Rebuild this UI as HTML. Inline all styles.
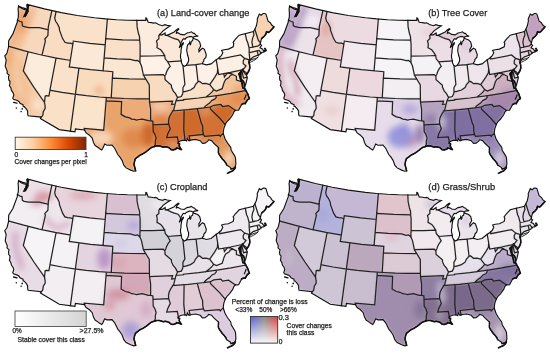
<!DOCTYPE html>
<html><head><meta charset="utf-8"><style>html,body{margin:0;padding:0;background:#fff;}svg{display:block;}</style></head>
<body><svg width="550" height="355" viewBox="0 0 550 355">
<rect width="550" height="355" fill="#fff"/>
<defs>
<path id="us" d="M18.6 6 21.3 8.1 23.5 9.2 26.3 9.9 26.2 12.4 24.6 14.7 23.8 16.5 26 15.4 28.3 11.4 27.8 8.2 28.6 6.4 27.9 4.6 44.4 8.9 61.2 12.6 77.3 15.5 94.5 17.8 105.6 18.9 116.6 19.7 127.5 20.2 139.3 20.4 145.8 20.4 145.8 18 146.6 18.2 148.2 22.3 151.5 22.6 153.7 23.1 155.4 22.8 157.4 23.7 158.3 24.6 162.7 25.7 164.7 24.7 167.1 25.4 170.3 25.9 167.3 27.7 163 30.8 161.3 32.9 159.6 34.4 159.8 34.8 162.3 34.8 165.1 33 165.3 35.3 167.2 35.3 174.2 32.1 175.9 30.3 178.2 28.7 178.9 29.1 176.8 31.2 176.5 32.8 175.9 33.5 177.9 32.7 180.7 34.4 184.2 34.9 187 33 189.5 32.5 191.4 31.8 193.5 33.4 194.4 33.4 196 35.3 198.2 36.2 194.3 36.5 193.2 37.5 191.4 36.6 189.3 36.5 186.3 37.8 185 39.2 183.8 38.7 182.8 39.4 181.4 41.9 179.2 47.8 183.5 42.3 183.2 44 181.9 45.5 181 50.5 181 52.7 180.5 55 180.5 57.4 181.2 60.2 181.5 62.8 182.5 64.9 184.2 66.4 186 65.6 187.8 62.9 188.6 60.8 188.6 58.3 187.7 55.5 186.7 50.8 187.2 46.3 187.9 44.5 189.4 43.3 189.7 42.3 190.2 44.6 190 45.1 190.8 43.8 191.2 41.4 192.5 40.7 193.2 38.1 194.5 38.8 197.6 39.9 199.7 42 200.7 46.1 198.8 49.4 199 51.7 200.9 49.5 202.6 48.2 204.4 49.3 206.3 54.7 205.8 57.4 203.9 59.4 203.7 61.3 202.6 62.4 202.6 63.8 206.4 64.9 211.1 63.9 215 60.6 218.2 58.5 221.3 55.7 222.8 52.7 221.6 50.4 224.2 49.7 228.4 49.1 233.2 46.8 233.8 43.7 233.1 42.3 235.2 39.4 239.2 35.2 253.5 31.6 254.8 29.2 256.3 26.1 257.4 21 257.2 19.2 259.3 14.1 261.1 15.2 263.2 13.5 264.8 13.5 265.9 14.1 268.1 21.1 270.3 22.7 271.7 25 273.9 26.9 270 31.3 268.6 32.4 266.5 31.7 265.8 34.3 264.3 36.1 261.6 38.5 260.9 40.8 260.2 44.2 261.6 45.3 260 47.8 262.3 48.9 263.6 50.8 265.5 50.4 264.5 48.6 265.1 48.3 265.9 49.2 266.3 50.7 263.5 52.3 261.9 52.4 260.3 53.7 259.7 54.6 253.2 57 249.9 59.9 249.7 60.9 248.9 62.5 249.6 65 249.8 68 248.9 70.9 246.9 74.2 246.1 72.6 243.1 70.4 244 72.4 246.4 75.2 247.2 77.4 247.2 78.2 245.8 84.1 244.5 86.9 244.4 83.7 243.3 81.3 241.4 79.6 240.8 77.8 240.7 75.1 241 71.7 238.9 73.8 240.6 79.2 241.6 81.6 243 88.1 244.6 88.4 247.7 93.8 249.4 98.6 247.4 99.9 245.1 103.7 244 103.3 241.6 104.4 238.6 110.1 235.4 110.3 233.8 112 232.7 114.8 229.6 119 227.2 121.4 225.6 123.7 223.9 128.3 223.3 131.7 223.3 133.7 225 138.7 227.4 142.9 230.7 147.3 231.2 150.2 234.8 156.1 235.5 158 235.9 164 235 167.9 231 169 230.5 167.6 226.7 165 225.9 163.1 224.4 161.1 222.2 158.8 219.3 154.6 218.4 152.8 218.5 147.5 213.6 143 211.6 140.6 208.6 139.8 207.7 141.1 205.1 143.1 202.5 143.3 200.2 140.7 195.6 139.4 191.7 139.9 189 140.8 187.3 138.4 186.7 141 185 140.2 182.2 140.4 179.7 141.3 178.4 142.2 178.2 143.3 179.6 143.9 179.2 145.9 180.2 148.1 181.5 149.6 178.8 148.5 176.5 148 176 149 173.2 149.9 171.2 149.7 169.1 147.8 167.7 147.2 165.1 146.7 163.4 147.1 159.4 145.9 156.6 145.9 151.5 147.5 146.5 151.4 143 153.7 140.2 155 135.3 158.9 134.4 162.1 134 164.7 135.7 170.8 133.7 171.2 130.7 170.1 126.1 167.9 123.8 165.1 122.2 160.6 120 157.2 117.8 154.5 114.7 148.2 112 145.1 106.9 145.2 104.7 144.1 102.7 148.5 101.7 149.9 99.3 148.5 98.2 147.5 95.1 145.5 93.5 142.5 92.2 138.1 89.2 134.9 86.1 132.9 84.5 130 75.4 128.9 75 131.8 59.3 129.6 40.4 118.5 41.2 117.1 28.1 115.7 27.7 114.4 27.6 111 26.4 109.1 24.2 106.6 23.1 106.3 23 104.6 20 103.3 19.3 101.9 17.4 100.5 13.5 99.2 12.8 98.1 13.8 94.9 13 92.6 11.4 90.4 10.9 88 9.4 85.5 9.9 83.6 10 81.3 8.8 79.9 8.5 77.1 9.1 75.2 7 73.2 7.3 71.3 5.2 66.2 6.2 60 4.8 55.9 6.5 53.9 7.2 52.4 8.7 46.4 8.5 45.9 8.7 40.6 12.9 33.9 17.2 22.3 17.5 20 18.3 17.2 18.4 13.2 18.1 9 18.6 6Z"/>
<path id="li" d="M248.9 62.5 250.5 62.2 253.6 60.6 256.2 59 258.4 56.9 256.5 58 250.5 60.1 248.9 62.5Z"/>
<path id="bd" d="M16.9 19.7 20.1 21.5 22 22 22.4 25.8 24.2 26.7 28.7 27.6 39.3 27.6 48.8 29.8M48.2 30.3 48.3 26.9 52 10.1M48.2 29.1 47.9 35.6 44.8 39 45.4 40.8 41.9 55.7M8.1 46.2 23.7 50.6 39.3 54.5 55.1 57.8 70.9 60.5M28.3 51.2 23.3 70.9 33.9 87.4 44.9 103M44.4 103.2 45.2 96 46.8 95.7 48.9 96 50.1 89.6M44.4 102 45.1 106 45.2 108.4 43.3 111.7 42.7 115.6 40.7 117.6M49.8 90.8 56.2 57.4M56.2 11 54.7 18 55.6 21.3 57.4 23.7 59.3 27.7 59.5 30.1 62.6 38.6 64.9 42.3 67.6 43.1 70.4 43.2 73.4 44.5M73.4 40.5 69.2 67.5M72.7 41 89.7 43.3 105.8 44.9M107.4 18.5 103 71.6M105.1 38.7 122.7 39.8 140.2 40.2M68.7 66.8 90.5 69.7 112.8 71.7 112.4 78.8M79 67.7 70.3 131.8M49.4 90.1 62.1 92.4 74.3 94.2 86.3 95.7 99.3 97 112.2 97.9 124.3 98.5 137.4 98.8 150 98.7M106.4 97 103.7 130.2 84.2 128.5 84.7 130.5M105.5 100.8 121.6 101.7 121.1 115M120.6 114.1 125.3 116.9 129 117.7 131.7 119.1 134.3 119.4 136.5 120.1 139.2 119.5 142.4 119.1 148.3 120.7 151.2 120.8M112.4 77.6 111.2 98.5M111.8 78.2 129 78.9 146.3 79.1M103.6 57.8 117.3 58.8 130.4 59.3 135.1 60.7 137.5 60.4 138.9 61.4 140.5 63.2M139.6 39.6 140.1 44.4 140.1 56.1 139.9 59.4 140.1 63.3M136.8 19.8 137.1 26.9 138.4 33.3 139.5 36.6 139.7 40.8M139.5 56.1 152.8 56 165.3 55.5M139.8 62.2 141.5 66 143.4 75.1 149.3 84.9 149.4 99.3M142.8 75.1 163.2 74.6 165.2 76.4M149.4 98.1 149.5 102 172.6 101.1 171.6 104.4 175.8 104.1M149.4 101.4 150.6 109.2 150.6 121.4M150 120.6 152.9 121.3 153 124.8 169.3 124.1M153 124.2 153.2 131.5 155.1 134.7 156.1 137.9 155.3 141.2 155.3 144.1 154.4 147M168.5 123.6 170.3 128.8 167.8 133.8 166.7 137.5 177.3 136.9 178.5 142.7M175.3 103.6 173.7 109.9 171 113.7 169.1 117.7 168.5 121 168.7 124.8M171.9 111 188.4 109.7 204.5 107.9M183.1 109.7 184.1 110.7 183.8 129.8 185 140.8M197.1 108.2 201.1 122.5 202.6 126 202.8 131.2 203.6 135M204.1 134.3 189.1 135.9 190.2 141M203.2 133.9 204.5 136.3 219.3 135.1 220.3 136.4 221.3 135 223.8 133.2M225.6 125 219.8 118.3 210.6 109.1 210.2 106.5M210.9 107 203.3 108M209.8 107.4 213.8 105.3 220.9 104.5 222.5 106.5 228.5 105.6 235.9 110.7M203.6 108.4 205.4 106.1 207.8 104.2 209.3 103.3 212 100.3 214.7 99.2 216.3 97.3 216.1 95.1M215.6 95.8 231 93.3 246.4 90.4M216.7 95.6 198.8 98 183.4 99.6 183.5 100.2 175.4 100.9M205.4 97.5 210 93.9 212.3 91.6 214.1 89.2M214.1 90.2 209.4 84.2M210.3 84.8 206 83.5 202.5 83.7 199.7 81.4 198.1 81.6 195.5 84.5 194.1 87.6 190.5 90 185 91.7 183 91.7 182.7 93.7 181.3 96.5 177 97.6M177.8 96.9 176 100.8 175 104.8M213.2 89.4 216.4 91 222.2 88.7 224.2 82.3 225.7 79.4 228.9 77.5 230.5 75.2 233.4 74.4M233.4 74.8 230.2 73.2 227.2 73.4 224.4 77 223.7 73M242.3 69.9 230.4 72.4 218.7 74.5 216.1 59.1M217.7 67.9 217.4 72.8 214.7 77.3 209.4 85.1M232.3 74.3 236.4 76.3 236.4 80 242.2 81.8M241.6 69.5 243.5 78.1 247.7 77.2M241.3 70.5 242.5 69.1 244.1 69.1M243.1 69.6 246 65.8 243.3 63.8 243.2 61.1 244.8 57.8M245 58.8 240.6 55 219.8 59.1 219.4 56.8M244 58.2 248.9 59.8 248.8 61.8 249.1 63M242.9 71 243.7 68.5M198.1 82.2 196.1 64.6 203.1 63.5M196.7 64.6 185.8 65.3M182.9 65 184.9 84.3 182.9 87.8 183 92.3M181.9 60.8 167.2 61.9M167.5 61.4 170.2 66.3 168.4 68.4 166.6 71.8 165.8 74.5 164.8 76 165.1 79.8 171.4 85.3 171.5 87.3 173.3 91.1 175.5 93.6 177.8 98M168.2 62.4 165.2 58.8 164.7 55.5 162.7 52.3 160.7 49.8 157 47.7 157.3 44.1 156.5 40.9 158.9 38.8 158.8 35.6 160.1 34.3M180.9 44.4 179.5 41.4 178 39.6 174.3 38.6 171.5 37.5 166.7 35.1M253.4 31 253.9 34.9 252.5 38.6 251.9 42.2 253 47.8M245.1 33.1 246.6 40.1 247.7 42.5 249.3 48.5M248.5 48 258.3 45.9 260.6 43.8M249.1 47.3 249.2 52.6 249.7 58.9 250.4 60M248.6 52.8 257.1 50.8 258.4 55.8M256.5 50.9 259.1 50.4 261.5 53.7M254.7 28.7 258.3 40.1 260.7 43.2"/>
<path id="s_WA" d="M51.9 10.7 39.5 7.7 27.9 4.6 28.6 6.4 27.8 8.2 28.3 11.4 26 15.4 23.8 16.5 24.6 14.7 26.2 12.4 26.3 9.9 23.5 9.2 21.3 8.1 18.6 6 18.1 9 18.4 13.2 18.3 17.2 17.5 20 20.1 21.5 22 22 22.4 25.8 24.2 26.7 28.7 27.6 39.3 27.6 48.2 29.7 48.3 26.9Z"/>
<path id="s_OR" d="M17.5 20 17.2 22.3 16.3 25.1 12.9 33.9 8.7 40.6 8.5 45.9 8.7 46.4 25.5 51.1 42.1 55.1 45.4 40.8 44.8 39 47.9 35.6 48.2 29.7 39.3 27.6 28.7 27.6 24.2 26.7 22.4 25.8 22 22 20.1 21.5Z"/>
<path id="s_CA" d="M8.7 46.4 7.2 52.4 6.5 53.9 4.8 55.9 6.2 60 5.2 66.2 7.3 71.3 7 73.2 9.1 75.2 8.5 77.1 8.8 79.9 10 81.3 9.9 83.6 9.4 85.5 10.9 88 11.4 90.4 13 92.6 13.8 94.9 12.8 98.1 13.5 99.2 17.4 100.5 19.3 101.9 20 103.3 23 104.6 23.1 106.3 24.2 106.6 26.4 109.1 27.6 111 27.7 114.4 28.1 115.7 41.2 117.1 42.7 115.6 43.3 111.7 45.2 108.4 45.1 106 44.5 102.6 33.9 87.4 23.3 70.9 28.2 51.8Z"/>
<path id="s_NV" d="M42.1 55.1 28.2 51.8 23.3 70.9 33.9 87.4 44.5 102.6 45.2 96 46.8 95.7 48.9 96 56.1 58Z"/>
<path id="s_ID" d="M56.1 11.6 51.9 10.7 48.3 26.9 47.9 35.6 44.8 39 45.4 40.8 42.1 55.1 56.1 58 70.3 60.4 72.8 44.3 70.4 43.2 67.6 43.1 64.9 42.3 62.6 38.6 59.5 30.1 59.3 27.7 57.4 23.7 55.6 21.3 54.7 18Z"/>
<path id="s_MT" d="M107.4 19.1 94.5 17.8 81.6 16.1 68.8 14 56.1 11.6 54.7 18 55.6 21.3 57.4 23.7 59.3 27.7 59.5 30.1 62.6 38.6 64.9 42.3 67.6 43.1 70.4 43.2 72.8 44.3 73.3 41.1 89.7 43.3 105.2 44.9Z"/>
<path id="s_WY" d="M73.3 41.1 69.3 66.9 86.6 69.3 103.1 71 105.2 44.9 89.7 43.3Z"/>
<path id="s_UT" d="M70.3 60.4 56.1 58 50 90.2 63.1 92.5 75.4 94.4 78.9 68.3 69.3 66.9Z"/>
<path id="s_AZ" d="M41.2 117.1 40.4 118.5 59.3 129.6 70.4 131.2 75.4 94.4 63.1 92.5 50 90.2 48.9 96 46.8 95.7 45.2 96 44.5 102.6 45.1 106 45.2 108.4 43.3 111.7 42.7 115.6Z"/>
<path id="s_CO" d="M112.8 71.7 90.5 69.7 78.9 68.3 75.4 94.4 93.3 96.5 111.2 97.9Z"/>
<path id="s_NM" d="M70.4 131.2 75 131.8 75.4 128.9 84.5 130 84.2 128.5 103.7 130.2 106.3 97.6 90.3 96.2 75.4 94.4Z"/>
<path id="s_ND" d="M136.8 20.4 122.5 20 107.4 19.1 105.7 38.8 122.7 39.8 139.6 40.2 139.5 36.6 138.4 33.3 137.1 26.9Z"/>
<path id="s_SD" d="M105.7 38.8 104.2 57.9 117.3 58.8 130.4 59.3 135.1 60.7 137.5 60.4 138.9 61.4 140.1 62.7 139.9 59.4 140.1 56.1 140.1 44.4 139.6 40.2 122.7 39.8Z"/>
<path id="s_NE" d="M104.2 57.9 103.1 71 112.8 71.7 112.4 78.2 129 78.9 145.7 79.1 143.4 75.1 141.5 66 140.1 62.7 138.9 61.4 137.5 60.4 135.1 60.7 130.4 59.3 117.3 58.8Z"/>
<path id="s_KS" d="M112.4 78.2 111.2 97.9 130.3 98.7 149.4 98.7 149.3 84.9 145.7 79.1 129 78.9Z"/>
<path id="s_OK" d="M130.3 98.7 106.3 97.6 106.1 100.8 121.6 101.7 121.1 114.4 125.3 116.9 129 117.7 131.7 119.1 134.3 119.4 136.5 120.1 139.2 119.5 142.4 119.1 148.3 120.7 150.6 120.8 150.6 109.2 149.5 102 149.4 98.7Z"/>
<path id="s_TX" d="M84.5 130 86.1 132.9 89.2 134.9 92.2 138.1 93.5 142.5 95.1 145.5 98.2 147.5 99.3 148.5 101.7 149.9 102.7 148.5 104.7 144.1 106.9 145.2 112 145.1 114.7 148.2 117.8 154.5 120 157.2 122.2 160.6 123.8 165.1 126.1 167.9 130.7 170.1 133.7 171.2 135.7 170.8 134 164.7 134.4 162.1 135.3 158.9 140.2 155 143 153.7 146.5 151.4 151.5 147.5 154.6 146.4 155.3 144.1 155.3 141.2 156.1 137.9 155.1 134.7 153.2 131.5 152.9 121.3 150.6 120.8 148.3 120.7 142.4 119.1 139.2 119.5 136.5 120.1 134.3 119.4 131.7 119.1 129 117.7 125.3 116.9 121.1 114.4 121.6 101.7 106.1 100.8 103.7 130.2 84.2 128.5Z"/>
<path id="s_MN" d="M159.8 34.6 159.6 34.4 161.3 32.9 163 30.8 167.3 27.7 170.3 25.9 167.1 25.4 164.7 24.7 162.7 25.7 158.3 24.6 157.4 23.7 155.4 22.8 153.7 23.1 151.5 22.6 148.2 22.3 146.6 18.2 145.8 18 145.8 20.4 136.8 20.4 137.1 26.9 138.4 33.3 139.5 36.6 140.1 44.4 140.1 56.1 152.8 56 164.7 55.5 162.7 52.3 160.7 49.8 157 47.7 157.3 44.1 156.5 40.9 158.9 38.8 158.8 35.6Z"/>
<path id="s_IA" d="M140.1 56.1 139.9 59.4 140.1 62.7 141.5 66 143.4 75.1 163.2 74.6 164.8 76 165.8 74.5 166.6 71.8 168.4 68.4 170.2 66.3 167.8 61.9 165.2 58.8 164.7 55.5 152.8 56Z"/>
<path id="s_MO" d="M143.4 75.1 149.3 84.9 149.5 102 172.6 101.1 171.6 104.4 175.2 104.2 176 100.8 177.6 97.4 175.5 93.6 173.3 91.1 171.5 87.3 171.4 85.3 165.1 79.8 164.8 76 163.2 74.6Z"/>
<path id="s_AR" d="M175.2 104.2 171.6 104.4 172.6 101.1 149.5 102 150.6 109.2 150.6 120.8 152.9 121.3 153 124.8 168.7 124.2 168.5 121 169.1 117.7 171 113.7 173.7 109.9Z"/>
<path id="s_LA" d="M154.6 146.4 156.6 145.9 159.4 145.9 163.4 147.1 165.1 146.7 167.7 147.2 169.1 147.8 171.2 149.7 173.2 149.9 176 149 176.5 148 178.8 148.5 181.5 149.6 180.2 148.1 179.2 145.9 179.6 143.9 178.2 143.3 178.4 142.2 177.3 136.9 166.7 137.5 167.8 133.8 170.3 128.8 168.7 124.2 153 124.8 153.2 131.5 155.1 134.7 156.1 137.9 155.3 141.2 155.3 144.1Z"/>
<path id="s_WI" d="M167.2 35.3 165.3 35.3 165.1 33 162.3 34.8 159.8 34.6 158.8 35.6 158.9 38.8 156.5 40.9 157.3 44.1 157 47.7 160.7 49.8 162.7 52.3 164.7 55.5 165.2 58.8 167.8 61.9 181.3 60.9 180.5 57.4 180.5 55 181 52.7 181 50.5 181.9 45.5 183.2 44 183.5 42.3 179.2 47.8 180.7 43.9 179.5 41.4 178 39.6 173.3 38.2Z"/>
<path id="s_IL" d="M183 65.3 182.5 64.9 181.5 62.8 181.3 60.9 167.8 61.9 170.2 66.3 168.4 68.4 166.6 71.8 165.8 74.5 164.8 76 165.1 79.8 171.4 85.3 171.5 87.3 173.3 91.1 175.5 93.6 177.6 97.4 181.3 96.5 182.7 93.7 183 91.7 182.9 87.8 184.9 84.3Z"/>
<path id="s_MI" d="M202.6 63.6 202.6 62.4 203.7 61.3 203.9 59.4 205.8 57.4 206.3 54.7 204.4 49.3 202.6 48.2 200.9 49.5 199 51.7 198.8 49.4 200.7 46.1 199.7 42 197.6 39.9 194.5 38.8 193.2 38.1 192.5 40.7 191.2 41.4 190.8 43.8 190 45.1 190.2 44.6 189.7 42.3 189.4 43.3 187.9 44.5 187.2 46.3 186.7 50.8 187.7 55.5 188.6 58.3 188.6 60.8 187.8 62.9 186.2 65.3 196.1 64.6Z"/>
<path id="s_MIU" d="M180.7 43.9 181.4 41.9 182.8 39.4 183.8 38.7 185 39.2 186.3 37.8 189.3 36.5 191.4 36.6 193.2 37.5 194.3 36.5 198.2 36.2 196 35.3 194.4 33.4 193.5 33.4 191.4 31.8 189.5 32.5 187 33 184.2 34.9 180.7 34.4 177.9 32.7 175.9 33.5 176.5 32.8 176.8 31.2 178.9 29.1 178.2 28.7 175.9 30.3 174.2 32.1 167.2 35.3 173.3 38.2 178 39.6 179.5 41.4Z"/>
<path id="s_IN" d="M186.2 65.3 186 65.6 184.2 66.4 183 65.3 184.9 84.3 182.9 87.8 183 91.7 185 91.7 190.5 90 194.1 87.6 195.5 84.5 198.1 81.6 196.1 64.6Z"/>
<path id="s_OH" d="M216.2 59.8 211.1 63.9 206.4 64.9 202.6 63.8 202.6 63.6 196.1 64.6 198.1 81.6 199.7 81.4 202.5 83.7 206 83.5 209.7 84.6 214.7 77.3 217.4 72.8 217.7 68.5Z"/>
<path id="s_KY" d="M176 100.8 183.5 100.2 183.4 99.6 205.9 97.1 210 93.9 212.3 91.6 213.7 89.7 209.7 84.6 206 83.5 202.5 83.7 199.7 81.4 198.1 81.6 195.5 84.5 194.1 87.6 190.5 90 185 91.7 183 91.7 182.7 93.7 181.3 96.5 177.6 97.4Z"/>
<path id="s_TN" d="M176 100.8 173.7 109.9 173 110.9 188.4 109.7 203.9 108 205.4 106.1 207.8 104.2 209.3 103.3 212 100.3 214.7 99.2 216.3 97.3 216.2 95.7 198.8 98 183.4 99.6 183.5 100.2Z"/>
<path id="s_MS" d="M178.4 142.2 179.7 141.3 182.2 140.4 185 140.2 183.8 129.8 184.1 110.7 183.5 110.1 173 110.9 171 113.7 169.1 117.7 168.5 121 168.7 124.2 170.3 128.8 167.8 133.8 166.7 137.5 177.3 136.9Z"/>
<path id="s_AL" d="M185 140.2 186.7 141 187.3 138.4 189 140.8 190.1 140.6 189.1 135.9 203.5 134.4 202.8 131.2 202.6 126 201.1 122.5 197.2 108.8 183.5 110.1 184.1 110.7 183.8 129.8Z"/>
<path id="s_GA" d="M223.3 133.5 223.3 131.7 223.9 128.3 225.2 124.5 219.8 118.3 210.6 109.1 210.3 107.1 197.2 108.8 201.1 122.5 202.6 126 202.8 131.2 203.5 134.4 204.5 136.3 219.3 135.1 220.3 136.4 221.3 135Z"/>
<path id="s_FL" d="M190.1 140.6 191.7 139.9 195.6 139.4 200.2 140.7 202.5 143.3 205.1 143.1 207.7 141.1 208.6 139.8 211.6 140.6 213.6 143 218.5 147.5 218.4 152.8 219.3 154.6 222.2 158.8 224.4 161.1 225.9 163.1 226.7 165 230.5 167.6 231 169 235 167.9 235.9 164 235.5 158 234.8 156.1 231.2 150.2 230.7 147.3 227.4 142.9 225 138.7 223.3 133.5 221.3 135 220.3 136.4 219.3 135.1 204.5 136.3 203.5 134.4 189.1 135.9Z"/>
<path id="s_SC" d="M225.2 124.5 227.2 121.4 229.6 119 232.7 114.8 233.8 112 235.4 110.3 228.5 105.6 222.5 106.5 220.9 104.5 213.8 105.3 210.3 107.1 210.6 109.1 219.8 118.3Z"/>
<path id="s_NC" d="M235.4 110.3 238.6 110.1 241.6 104.4 244 103.3 245.1 103.7 247.4 99.9 249.4 98.6 247.7 93.8 245.8 90.5 231 93.3 216.2 95.7 216.3 97.3 214.7 99.2 212 100.3 209.3 103.3 207.8 104.2 205.4 106.1 203.9 108 210.3 107.1 213.8 105.3 220.9 104.5 222.5 106.5 228.5 105.6Z"/>
<path id="s_VA" d="M245.8 90.5 244.6 88.4 243 88.1 241.6 81.6 236.4 80 236.4 76.3 232.9 74.6 230.5 75.2 228.9 77.5 225.7 79.4 224.2 82.3 222.2 88.7 216.4 91 213.7 89.7 212.3 91.6 210 93.9 205.9 97.1 226.1 94.2Z"/>
<path id="s_WV" d="M209.7 84.6 213.7 89.7 216.4 91 222.2 88.7 224.2 82.3 225.7 79.4 228.9 77.5 230.5 75.2 232.9 74.6 230.2 73.2 227.2 73.4 224.4 77 223.8 73.6 218.7 74.5 217.7 68.5 217.4 72.8 214.7 77.3Z"/>
<path id="s_MD" d="M241.6 81.6 240.6 79.2 238.9 73.8 241 71.7 240.7 75.1 240.8 77.8 241.4 79.6 243.3 81.3 244.4 83.7 244.5 86.9 245.8 84.1 247.2 78.2 247.2 77.4 243.5 78.1 241.7 70 223.8 73.6 224.4 77 227.2 73.4 230.2 73.2 236.4 76.3 236.4 80Z"/>
<path id="s_DE" d="M247.1 77.3 246.4 75.2 244 72.4 243.1 70.4 243.5 69.1 242.5 69.1 241.7 70 243.5 78.1Z"/>
<path id="s_PA" d="M219.5 57.3 218.2 58.5 216.2 59.8 218.7 74.5 241.7 70 242.5 69.1 243.5 69.1 246 65.8 243.3 63.8 243.2 61.1 244.6 58.4 240.6 55 219.8 59.1Z"/>
<path id="s_NJ" d="M243.1 70.4 246.1 72.6 246.9 74.2 248.9 70.9 249.8 68 249.6 65 248.8 61.8 248.9 59.8 244.6 58.4 243.2 61.1 243.3 63.8 246 65.8 243.5 69.1Z"/>
<path id="s_NY" d="M245.2 33.7 239.2 35.2 235.2 39.4 233.1 42.3 233.8 43.7 233.2 46.8 228.4 49.1 224.2 49.7 221.6 50.4 222.8 52.7 221.3 55.7 219.5 57.3 219.8 59.1 240.6 55 244.6 58.4 248.9 59.8 248.9 62.5 250.2 59.6 249.7 58.9 249.2 52.6 249.1 47.9 247.7 42.5 246.6 40.1Z"/>
<path id="s_CT" d="M250.2 59.6 253.2 57 256.9 55.6 258.3 55.3 257.1 50.8 249.2 52.6 249.7 58.9Z"/>
<path id="s_RI" d="M258.3 55.3 259.7 54.6 260.3 53.7 261 53.1 259.1 50.4 257.1 50.8Z"/>
<path id="s_MA" d="M261 53.1 261.9 52.4 263.5 52.3 266.3 50.7 265.9 49.2 265.1 48.3 264.5 48.6 265.5 50.4 263.6 50.8 262.3 48.9 260 47.8 261.6 45.3 260.2 44.2 258.3 45.9 249.1 47.9 249.2 52.6 259.1 50.4Z"/>
<path id="s_VT" d="M253.5 31.6 245.2 33.7 246.6 40.1 247.7 42.5 249.1 47.9 252.9 47.2 251.9 42.2 252.5 38.6 253.9 34.9Z"/>
<path id="s_NH" d="M254.8 29.2 253.5 31.6 253.9 34.9 252.5 38.6 251.9 42.2 252.9 47.2 258.3 45.9 260.2 44.2 260.4 42.7 258.3 40.1Z"/>
<path id="s_ME" d="M260.4 42.7 261.6 38.5 264.3 36.1 265.8 34.3 266.5 31.7 268.6 32.4 270 31.3 273.9 26.9 271.7 25 270.3 22.7 268.1 21.1 265.9 14.1 264.8 13.5 263.2 13.5 261.1 15.2 259.3 14.1 257.2 19.2 257.4 21 256.3 26.1 254.8 29.2 258.3 40.1Z"/>
<clipPath id="clipus"><use href="#us"/><use href="#li"/></clipPath>
<filter id="bl" x="-5%" y="-5%" width="110%" height="110%"><feGaussianBlur stdDeviation="1.2"/></filter>
<filter id="bl2" x="-50%" y="-50%" width="200%" height="200%"><feGaussianBlur stdDeviation="3"/></filter>
<linearGradient id="gor" x1="0" x2="1"><stop offset="0" stop-color="#fff5eb"/><stop offset="0.25" stop-color="#fdd0a2"/><stop offset="0.5" stop-color="#fd8d3c"/><stop offset="0.75" stop-color="#d94801"/><stop offset="1" stop-color="#7f2704"/></linearGradient>
<linearGradient id="ggr" x1="0" x2="1"><stop offset="0" stop-color="#ffffff"/><stop offset="1" stop-color="#d4d4d4"/></linearGradient>
<linearGradient id="gbr" x1="0" x2="1"><stop offset="0" stop-color="#5a5ae6"/><stop offset="0.5" stop-color="#8a8a8a"/><stop offset="1" stop-color="#e03c3c"/></linearGradient>
<linearGradient id="gwh" x1="0" x2="0" y1="0" y2="1"><stop offset="0" stop-color="#fff" stop-opacity="0"/><stop offset="1" stop-color="#fff" stop-opacity="0.95"/></linearGradient>
<g id="ex"><path d="M248.9 62.5 249.1 62.9 249.3 63.4 249.4 63.9 249.5 64.5 249.6 65 249.7 65.6 249.7 66.2 249.8 66.8 249.8 67.4 249.8 68 249.6 68.7 249.4 69.5 249.1 70.2 248.9 70.9 248.5 71.5 248.2 72 247.9 72.6 247.5 73.1 247.2 73.7 246.9 74.2" fill="none" stroke="#111" stroke-width="1.5" stroke-linecap="round" stroke-linejoin="round"/><path d="M241 71.7 240.6 72.1 240.2 72.5 239.8 73 239.3 73.4 238.9 73.8 239.1 74.4 239.4 75.1 239.6 75.7 239.7 76.3 239.9 76.8 240.1 77.4 240.2 78 240.4 78.6 240.6 79.2 240.8 79.8 241.1 80.4 241.3 81 241.6 81.6 241.7 82.3 241.9 82.9 242 83.6 242.2 84.2 242.3 84.7 242.4 85.3 242.5 85.8 242.6 86.4 242.7 87 242.9 87.5 243 88.1 243.5 88.2 244.1 88.3 244.6 88.4" fill="none" stroke="#111" stroke-width="1.7" stroke-linecap="round" stroke-linejoin="round"/><path d="M244.5 86.9 244.5 86.3 244.4 85.6 244.4 85 244.4 84.4 244.4 83.7 244.1 83.1 243.9 82.5 243.6 81.9 243.3 81.3 242.7 80.7 242.1 80.2 241.4 79.6 241.3 79.2 241.1 78.7 240.9 78.2 240.8 77.8 240.8 77.1 240.8 76.4 240.7 75.8 240.7 75.1 240.8 74.4 240.8 73.7 240.9 73 241 72.4 241 71.7" fill="none" stroke="#111" stroke-width="1.7" stroke-linecap="round" stroke-linejoin="round"/><path d="M244.6 88.4 244.9 88.9 245.2 89.4 245.5 89.9 245.8 90.5 246.1 91 246.4 91.6 246.7 92.1 247 92.7 247.3 93.2 247.7 93.8 247.9 94.4 248.1 95 248.3 95.6 248.5 96.2 248.7 96.8 248.9 97.4 249.2 98 249.4 98.6 249 98.9 248.6 99.1 248.2 99.4 247.8 99.6 247.4 99.9 247 100.5 246.6 101.2 246.2 101.8 245.8 102.4 245.5 103.1 245.1 103.7 244.6 103.5 244 103.3 243.6 103.5 243.1 103.7 242.6 104 242.1 104.2 241.6 104.4" fill="none" stroke="#111" stroke-width="1.6" stroke-linecap="round" stroke-linejoin="round"/><path d="M246 94.8 245.8 95.5 245.6 96.2 245.4 96.9 245.1 97.5 244.8 98.1 244.6 98.6 244.3 99.2" fill="none" stroke="#111" stroke-width="1.2" stroke-linecap="round" stroke-linejoin="round"/><path d="M154.6 146.4 155.1 146.3 155.6 146.2 156.1 146 156.6 145.9 157.1 145.9 157.7 145.9 158.3 145.9 158.8 145.9 159.4 145.9 159.9 146.1 160.4 146.2 160.9 146.4 161.4 146.5 161.9 146.7 162.4 146.8 162.9 147 163.4 147.1 164 147 164.5 146.8 165.1 146.7 165.6 146.8 166.1 146.9 166.6 147 167.1 147.1 167.7 147.2 168.1 147.4 168.6 147.6 169.1 147.8 169.6 148.3 170.1 148.7 170.7 149.2 171.2 149.7 171.7 149.7 172.2 149.8 172.7 149.8 173.2 149.9 173.8 149.7 174.3 149.5 174.9 149.4 175.4 149.2 176 149 176.2 148.5 176.5 148 177 148.1 177.4 148.2 177.9 148.3 178.3 148.4 178.8 148.5 179.3 148.7 179.9 149 180.4 149.2 180.9 149.4 181.5 149.6 181 149.1 180.6 148.6 180.2 148.1 180 147.5 179.7 147 179.4 146.4 179.2 145.9 179.3 145.2 179.5 144.6 179.6 143.9 179.1 143.7 178.7 143.5 178.2 143.3 178.3 142.7 178.4 142.2" fill="none" stroke="#111" stroke-width="1.6" stroke-linecap="round" stroke-linejoin="round"/><path d="M154.6 146.4 154.1 146.6 153.6 146.8 153.1 146.9 152.5 147.1 152 147.3 151.5 147.5 151 147.9 150.4 148.3 149.8 148.7 149.3 149.1 148.7 149.6 148.2 150.1 147.6 150.5 147 151 146.5 151.4 146 151.8 145.5 152.1 145 152.4 144.5 152.8 144 153.1 143.5 153.4 143 153.7 142.5 154 141.9 154.3 141.3 154.5 140.8 154.8 140.2 155 139.6 155.5 139 155.9 138.5 156.3 137.9 156.8 137.3 157.2 136.7 157.6 136.2 158 135.7 158.5 135.3 158.9 135.1 159.5 134.9 160.2 134.7 160.8 134.5 161.5 134.4 162.1 134.3 162.6 134.2 163.2 134.2 163.7 134.1 164.2 134 164.7 134.2 165.4 134.5 166 134.7 166.7 134.9 167.3 135 167.9 135.1 168.4 135.2 169 135.3 169.5 135.4 170.1 135.6 170.4 135.7 170.8" fill="none" stroke="#111" stroke-width="1.5" stroke-linecap="round" stroke-linejoin="round"/><path d="M218.5 147.5 218.5 148.2 218.5 148.9 218.5 149.5 218.5 150.2 218.4 150.8 218.4 151.3 218.4 151.8 218.4 152.3 218.4 152.8 218.7 153.4 219 154 219.3 154.6 219.6 155.1 220 155.6 220.4 156.1 220.7 156.7 221.1 157.2 221.5 157.7 221.9 158.3 222.2 158.8 222.8 159.4 223.3 159.9 223.8 160.5 224.4 161.1 224.7 161.6 225.1 162.1 225.5 162.6 225.9 163.1 226.1 163.7 226.4 164.4 226.7 165" fill="none" stroke="#111" stroke-width="1.4" stroke-linecap="round" stroke-linejoin="round"/><path d="M235.3 167.5 235 168.1 234.6 168.7 234.3 169.3 233.9 169.6 233.5 170 233.1 170.4 232.6 170.7 232.2 171.1 231.7 171.3 231.2 171.5 230.7 171.7 230.2 171.9 229.7 172.1 229.1 172.4 228.6 172.7 228.1 173 227.5 173.2" fill="none" stroke="#111" stroke-width="1.7" stroke-linecap="round" stroke-linejoin="round"/><path d="M235.4 166.5 235.2 167.2 235 167.9 234.4 168 233.9 168.2 233.3 168.4 232.7 168.6 232.2 168.7 231.6 168.9 231 169" fill="none" stroke="#111" stroke-width="1.4" stroke-linecap="round" stroke-linejoin="round"/><path d="M273.9 26.9 273.6 27.3 273.3 27.6 273 28 272.7 28.4 272.4 28.7 272.1 29 271.8 29.3 271.5 29.6 271.2 29.9 270.9 30.3 270.6 30.6 270.3 31 270 31.3 269.6 31.6 269.3 31.9 269 32.1 268.6 32.4 268.1 32.2 267.5 32.1 267 31.9 266.5 31.7 266.3 32.3 266.1 33 265.9 33.6 265.8 34.3 265.5 34.6 265.2 35 264.9 35.3 264.6 35.7 264.3 36.1 264 36.4 263.7 36.7 263.3 37 263 37.3 262.7 37.6 262.3 37.9 262 38.2 261.6 38.5" fill="none" stroke="#111" stroke-width="1.6" stroke-linecap="round" stroke-linejoin="round"/><path d="M27.3 5 27.7 7.6 26.9 10.8 25.7 14.2 24.9 16" fill="none" stroke="#111" stroke-width="2.3" stroke-linecap="round" stroke-linejoin="round"/><path d="M18.6 6.4 22 7.6 25.5 8.6" fill="none" stroke="#111" stroke-width="1.4" stroke-linecap="round" stroke-linejoin="round"/><path d="M13.6 102.4 17 103.2" fill="none" stroke="#111" stroke-width="1.3" stroke-linecap="round" stroke-linejoin="round"/><circle cx="16.3" cy="108.1" r="0.75" fill="#111"/><circle cx="22.2" cy="108.8" r="0.85" fill="#111"/><circle cx="21.1" cy="111.6" r="0.8" fill="#111"/></g>
</defs>
<g transform="translate(0 0)">
<g clip-path="url(#clipus)"><g filter="url(#bl)">
<use href="#us" fill="#f6d6b8"/>
<use href="#s_WA" fill="#f8d8bc"/>
<use href="#s_OR" fill="#f8d8bc"/>
<use href="#s_CA" fill="#f5cca8"/>
<use href="#s_NV" fill="#fcecdc"/>
<use href="#s_ID" fill="#f9dcc2"/>
<use href="#s_MT" fill="#fae2ca"/>
<use href="#s_WY" fill="#fbe8d6"/>
<use href="#s_UT" fill="#fae2ca"/>
<use href="#s_AZ" fill="#fae0c6"/>
<use href="#s_CO" fill="#f9dcc0"/>
<use href="#s_NM" fill="#fbe4cc"/>
<use href="#s_ND" fill="#fbe4ce"/>
<use href="#s_SD" fill="#fae0c8"/>
<use href="#s_NE" fill="#fbe6d2"/>
<use href="#s_KS" fill="#f6d2b0"/>
<use href="#s_OK" fill="#eeaa78"/>
<use href="#s_TX" fill="#e9a46c"/>
<use href="#s_MN" fill="#fcece0"/>
<use href="#s_IA" fill="#fdf1e8"/>
<use href="#s_MO" fill="#f8dcc2"/>
<use href="#s_AR" fill="#eaa676"/>
<use href="#s_LA" fill="#d27034"/>
<use href="#s_WI" fill="#fbe8d8"/>
<use href="#s_IL" fill="#fdf0e6"/>
<use href="#s_MI" fill="#fae6d4"/>
<use href="#s_MIU" fill="#fae4d0"/>
<use href="#s_IN" fill="#fdf0e6"/>
<use href="#s_OH" fill="#fdf0e8"/>
<use href="#s_KY" fill="#f9e0c8"/>
<use href="#s_TN" fill="#f6d4b4"/>
<use href="#s_MS" fill="#d27034"/>
<use href="#s_AL" fill="#cf6a2c"/>
<use href="#s_GA" fill="#d47234"/>
<use href="#s_FL" fill="#e39a5e"/>
<use href="#s_SC" fill="#d06a2c"/>
<use href="#s_NC" fill="#e69a60"/>
<use href="#s_VA" fill="#f2c49c"/>
<use href="#s_WV" fill="#fbe6d2"/>
<use href="#s_MD" fill="#f8dcc0"/>
<use href="#s_DE" fill="#f6d0b0"/>
<use href="#s_PA" fill="#fcefe4"/>
<use href="#s_NJ" fill="#fae4d0"/>
<use href="#s_NY" fill="#fdf2ea"/>
<use href="#s_CT" fill="#fbe8d8"/>
<use href="#s_RI" fill="#fae4d0"/>
<use href="#s_MA" fill="#fbe8d8"/>
<use href="#s_VT" fill="#fcece0"/>
<use href="#s_NH" fill="#fae2cc"/>
<use href="#s_ME" fill="#f7d2b0"/>
</g>
<g filter="url(#bl2)">
<ellipse cx="21.6" cy="19.5" rx="6" ry="14" fill="#ec9a60" fill-opacity="0.6"/>
<ellipse cx="9.2" cy="56.8" rx="5" ry="10" fill="#efa870" fill-opacity="0.5"/>
<ellipse cx="28.6" cy="103.9" rx="8" ry="5" fill="#eeaa74" fill-opacity="0.4"/>
<ellipse cx="148.5" cy="134.8" rx="7" ry="12" fill="#c45818" fill-opacity="0.8"/>
<ellipse cx="134.1" cy="138.1" rx="12" ry="10" fill="#d8783a" fill-opacity="0.6"/>
<ellipse cx="100.7" cy="137.9" rx="12" ry="8" fill="#fae0c8" fill-opacity="0.8"/>
<ellipse cx="37.8" cy="104.5" rx="7" ry="6" fill="#fcecdc" fill-opacity="0.7"/>
<ellipse cx="99.2" cy="90.4" rx="5" ry="5" fill="#eaa070" fill-opacity="0.6"/>
<ellipse cx="161.2" cy="120.7" rx="10" ry="5" fill="#d86a28" fill-opacity="0.6"/>
<ellipse cx="160.7" cy="106.3" rx="10" ry="4" fill="#fbe6d4" fill-opacity="0.6"/>
<ellipse cx="228.7" cy="158.4" rx="5" ry="8" fill="#fbe6d4" fill-opacity="0.8"/>
<ellipse cx="212.3" cy="137.9" rx="12" ry="3" fill="#cc6428" fill-opacity="0.6"/>
<ellipse cx="173.5" cy="145.0" rx="6" ry="3" fill="#f7d6b6" fill-opacity="0.6"/>
<ellipse cx="205.1" cy="111.8" rx="6" ry="3" fill="#f4c8a0" fill-opacity="0.5"/>
<ellipse cx="239.6" cy="89.4" rx="6" ry="4" fill="#e39252" fill-opacity="0.6"/>
<ellipse cx="238.9" cy="99.0" rx="8" ry="5" fill="#dd8040" fill-opacity="0.5"/>
<ellipse cx="212.9" cy="102.8" rx="5" ry="3" fill="#f8dcc0" fill-opacity="0.6"/>
<circle cx="20.9" cy="9.2" r="2.5" fill="#e88848" fill-opacity="0.55"/>
<circle cx="20.7" cy="11.5" r="2.5" fill="#e88848" fill-opacity="0.55"/>
<circle cx="20.5" cy="13.8" r="2.5" fill="#e88848" fill-opacity="0.55"/>
<circle cx="20.3" cy="16.1" r="2.5" fill="#e88848" fill-opacity="0.55"/>
<circle cx="19.8" cy="18.3" r="2.5" fill="#e88848" fill-opacity="0.55"/>
<circle cx="19.4" cy="20.6" r="2.5" fill="#e88848" fill-opacity="0.55"/>
<circle cx="18.8" cy="22.7" r="2.5" fill="#e88848" fill-opacity="0.55"/>
<circle cx="18.2" cy="24.8" r="2.5" fill="#e88848" fill-opacity="0.55"/>
<circle cx="17.5" cy="26.9" r="2.5" fill="#e88848" fill-opacity="0.55"/>
<circle cx="16.9" cy="29.0" r="2.5" fill="#e88848" fill-opacity="0.55"/>
<circle cx="16.1" cy="31.1" r="2.5" fill="#e88848" fill-opacity="0.55"/>
<circle cx="15.3" cy="33.3" r="2.5" fill="#e88848" fill-opacity="0.55"/>
<circle cx="14.4" cy="35.4" r="2.5" fill="#e88848" fill-opacity="0.55"/>
<circle cx="13.6" cy="37.6" r="2.5" fill="#e88848" fill-opacity="0.55"/>
<circle cx="12.8" cy="39.7" r="2.5" fill="#e88848" fill-opacity="0.55"/>
<circle cx="12.0" cy="41.9" r="2.5" fill="#e88848" fill-opacity="0.55"/>
<circle cx="11.1" cy="44.0" r="2.5" fill="#e88848" fill-opacity="0.55"/>
<circle cx="32.8" cy="7.3" r="2.5" fill="#eca068" fill-opacity="0.5"/>
<circle cx="32.4" cy="9.5" r="2.5" fill="#eca068" fill-opacity="0.5"/>
<circle cx="31.9" cy="11.7" r="2.5" fill="#eca068" fill-opacity="0.5"/>
<circle cx="31.4" cy="13.9" r="2.5" fill="#eca068" fill-opacity="0.5"/>
<circle cx="30.8" cy="16.1" r="2.5" fill="#eca068" fill-opacity="0.5"/>
<circle cx="30.0" cy="18.2" r="2.5" fill="#eca068" fill-opacity="0.5"/>
<circle cx="29.2" cy="20.3" r="2.5" fill="#eca068" fill-opacity="0.5"/>
<circle cx="28.3" cy="22.5" r="2.5" fill="#eca068" fill-opacity="0.5"/>
<circle cx="27.5" cy="24.5" r="2.5" fill="#eca068" fill-opacity="0.5"/>
<circle cx="26.7" cy="26.6" r="2.5" fill="#eca068" fill-opacity="0.5"/>
<circle cx="25.9" cy="28.6" r="2.5" fill="#eca068" fill-opacity="0.5"/>
<circle cx="25.0" cy="30.7" r="2.5" fill="#eca068" fill-opacity="0.5"/>
<circle cx="24.1" cy="32.8" r="2.5" fill="#eca068" fill-opacity="0.5"/>
<circle cx="23.2" cy="34.9" r="2.5" fill="#eca068" fill-opacity="0.5"/>
<circle cx="22.3" cy="37.0" r="2.5" fill="#eca068" fill-opacity="0.5"/>
<circle cx="21.4" cy="39.1" r="2.5" fill="#eca068" fill-opacity="0.5"/>
<circle cx="20.5" cy="41.2" r="2.5" fill="#eca068" fill-opacity="0.5"/>
<circle cx="19.6" cy="43.4" r="2.5" fill="#eca068" fill-opacity="0.5"/>
<circle cx="18.7" cy="45.5" r="2.5" fill="#eca068" fill-opacity="0.5"/>
<circle cx="17.9" cy="47.7" r="2.5" fill="#eca068" fill-opacity="0.5"/>
<circle cx="10.2" cy="48.2" r="2.2" fill="#eb9858" fill-opacity="0.5"/>
<circle cx="9.8" cy="50.4" r="2.2" fill="#eb9858" fill-opacity="0.5"/>
<circle cx="9.4" cy="52.7" r="2.2" fill="#eb9858" fill-opacity="0.5"/>
<circle cx="9.0" cy="55.0" r="2.2" fill="#eb9858" fill-opacity="0.5"/>
<circle cx="8.7" cy="57.3" r="2.2" fill="#eb9858" fill-opacity="0.5"/>
<circle cx="8.7" cy="59.4" r="2.2" fill="#eb9858" fill-opacity="0.5"/>
<circle cx="8.7" cy="61.4" r="2.2" fill="#eb9858" fill-opacity="0.5"/>
<circle cx="8.7" cy="63.5" r="2.2" fill="#eb9858" fill-opacity="0.5"/>
<circle cx="8.7" cy="65.5" r="2.2" fill="#eb9858" fill-opacity="0.5"/>
<circle cx="8.9" cy="67.5" r="2.2" fill="#eb9858" fill-opacity="0.5"/>
<circle cx="9.0" cy="69.6" r="2.2" fill="#eb9858" fill-opacity="0.5"/>
<circle cx="9.2" cy="71.6" r="2.2" fill="#eb9858" fill-opacity="0.5"/>
<circle cx="9.4" cy="73.6" r="2.2" fill="#eb9858" fill-opacity="0.5"/>
<circle cx="9.8" cy="75.7" r="2.2" fill="#eb9858" fill-opacity="0.5"/>
<circle cx="10.2" cy="77.8" r="2.2" fill="#eb9858" fill-opacity="0.5"/>
<circle cx="10.7" cy="79.8" r="2.2" fill="#eb9858" fill-opacity="0.5"/>
<circle cx="11.1" cy="81.9" r="2.2" fill="#eb9858" fill-opacity="0.5"/>
<circle cx="11.6" cy="84.1" r="2.2" fill="#eb9858" fill-opacity="0.5"/>
<circle cx="12.1" cy="86.3" r="2.2" fill="#eb9858" fill-opacity="0.5"/>
<circle cx="12.7" cy="88.4" r="2.2" fill="#eb9858" fill-opacity="0.5"/>
<circle cx="13.2" cy="90.6" r="2.2" fill="#eb9858" fill-opacity="0.5"/>
<circle cx="13.9" cy="92.8" r="2.2" fill="#eb9858" fill-opacity="0.5"/>
<circle cx="15.0" cy="94.9" r="2.2" fill="#eb9858" fill-opacity="0.5"/>
<circle cx="16.1" cy="97.0" r="2.2" fill="#eb9858" fill-opacity="0.5"/>
<circle cx="17.2" cy="99.1" r="2.2" fill="#eb9858" fill-opacity="0.5"/>
<circle cx="19.1" cy="100.3" r="2.2" fill="#eb9858" fill-opacity="0.5"/>
<circle cx="21.0" cy="101.5" r="2.2" fill="#eb9858" fill-opacity="0.5"/>
<circle cx="22.9" cy="102.7" r="2.2" fill="#eb9858" fill-opacity="0.5"/>
<circle cx="19.2" cy="61.0" r="2.2" fill="#eeaa70" fill-opacity="0.45"/>
<circle cx="19.6" cy="63.1" r="2.2" fill="#eeaa70" fill-opacity="0.45"/>
<circle cx="20.0" cy="65.2" r="2.2" fill="#eeaa70" fill-opacity="0.45"/>
<circle cx="20.4" cy="67.4" r="2.2" fill="#eeaa70" fill-opacity="0.45"/>
<circle cx="20.8" cy="69.5" r="2.2" fill="#eeaa70" fill-opacity="0.45"/>
<circle cx="21.4" cy="71.7" r="2.2" fill="#eeaa70" fill-opacity="0.45"/>
<circle cx="22.1" cy="73.8" r="2.2" fill="#eeaa70" fill-opacity="0.45"/>
<circle cx="22.8" cy="75.9" r="2.2" fill="#eeaa70" fill-opacity="0.45"/>
<circle cx="23.5" cy="78.1" r="2.2" fill="#eeaa70" fill-opacity="0.45"/>
<circle cx="24.1" cy="80.2" r="2.2" fill="#eeaa70" fill-opacity="0.45"/>
<circle cx="24.7" cy="82.4" r="2.2" fill="#eeaa70" fill-opacity="0.45"/>
<circle cx="25.2" cy="84.5" r="2.2" fill="#eeaa70" fill-opacity="0.45"/>
<circle cx="25.8" cy="86.7" r="2.2" fill="#eeaa70" fill-opacity="0.45"/>
<circle cx="26.3" cy="88.9" r="2.2" fill="#eeaa70" fill-opacity="0.45"/>
<circle cx="26.3" cy="90.9" r="2.2" fill="#eeaa70" fill-opacity="0.45"/>
<circle cx="26.3" cy="92.9" r="2.2" fill="#eeaa70" fill-opacity="0.45"/>
<circle cx="26.3" cy="94.9" r="2.2" fill="#eeaa70" fill-opacity="0.45"/>
</g>
</g>
<use href="#bd" fill="none" stroke="#222" stroke-width="1.25"/>
<use href="#us" fill="none" stroke="#111" stroke-width="1.15"/>
<use href="#li" fill="none" stroke="#111" stroke-width="0.9"/>
<use href="#ex"/>
</g>
<g transform="translate(271 0)">
<g clip-path="url(#clipus)"><g filter="url(#bl)">
<use href="#us" fill="#e0d4e0"/>
<use href="#s_WA" fill="#e4d8e6"/>
<use href="#s_OR" fill="#ece2ea"/>
<use href="#s_CA" fill="#f2ecf0"/>
<use href="#s_NV" fill="#f4eef2"/>
<use href="#s_ID" fill="#e6c4c4"/>
<use href="#s_MT" fill="#ecdce2"/>
<use href="#s_WY" fill="#f2eaee"/>
<use href="#s_UT" fill="#eedcdc"/>
<use href="#s_AZ" fill="#f0e0e2"/>
<use href="#s_CO" fill="#ecd8de"/>
<use href="#s_NM" fill="#f4ecf0"/>
<use href="#s_ND" fill="#f6f4f6"/>
<use href="#s_SD" fill="#f6f4f6"/>
<use href="#s_NE" fill="#f6f4f6"/>
<use href="#s_KS" fill="#f2eef2"/>
<use href="#s_OK" fill="#dcd0e4"/>
<use href="#s_TX" fill="#e6dcea"/>
<use href="#s_MN" fill="#eee2e6"/>
<use href="#s_IA" fill="#f4f2f4"/>
<use href="#s_MO" fill="#e8d8e2"/>
<use href="#s_AR" fill="#b4a2c0"/>
<use href="#s_LA" fill="#8878a8"/>
<use href="#s_WI" fill="#ecdee4"/>
<use href="#s_IL" fill="#f2eef2"/>
<use href="#s_MI" fill="#e8dae4"/>
<use href="#s_MIU" fill="#e2ccd8"/>
<use href="#s_IN" fill="#f0eaee"/>
<use href="#s_OH" fill="#eee6ec"/>
<use href="#s_KY" fill="#e2d0da"/>
<use href="#s_TN" fill="#d8c2ce"/>
<use href="#s_MS" fill="#8272a4"/>
<use href="#s_AL" fill="#7e6ea2"/>
<use href="#s_GA" fill="#806fa2"/>
<use href="#s_FL" fill="#9a8ab6"/>
<use href="#s_SC" fill="#8272a4"/>
<use href="#s_NC" fill="#a688ac"/>
<use href="#s_VA" fill="#cdb0c0"/>
<use href="#s_WV" fill="#e0ccd8"/>
<use href="#s_MD" fill="#dcc8d4"/>
<use href="#s_DE" fill="#e0d0dc"/>
<use href="#s_PA" fill="#eae0e6"/>
<use href="#s_NJ" fill="#e8dce4"/>
<use href="#s_NY" fill="#ece4ea"/>
<use href="#s_CT" fill="#e4d4dc"/>
<use href="#s_RI" fill="#e4d4dc"/>
<use href="#s_MA" fill="#e4d0da"/>
<use href="#s_VT" fill="#e0c4d0"/>
<use href="#s_NH" fill="#dcc0d0"/>
<use href="#s_ME" fill="#c4a0c0"/>
</g>
<g filter="url(#bl2)">
<ellipse cx="41.4" cy="21.5" rx="9" ry="6" fill="#f6f2f6" fill-opacity="0.8"/>
<ellipse cx="17.2" cy="84.2" rx="3" ry="6" fill="#f2eef2" fill-opacity="0.6"/>
<ellipse cx="55.2" cy="27.9" rx="5" ry="9" fill="#dca098" fill-opacity="0.65"/>
<ellipse cx="149.0" cy="134.1" rx="5" ry="10" fill="#85689a" fill-opacity="0.8"/>
<ellipse cx="128.0" cy="160.7" rx="8" ry="6" fill="#e8dce8" fill-opacity="0.6"/>
<ellipse cx="161.2" cy="119.4" rx="9" ry="5" fill="#85739f" fill-opacity="0.7"/>
<ellipse cx="228.7" cy="158.4" rx="5" ry="8" fill="#e6e0ea" fill-opacity="0.8"/>
<ellipse cx="171.0" cy="122.2" rx="3" ry="8" fill="#ece8f0" fill-opacity="0.8"/>
<ellipse cx="212.3" cy="137.9" rx="12" ry="3" fill="#7a6892" fill-opacity="0.6"/>
<ellipse cx="160.0" cy="32.9" rx="10" ry="5" fill="#e6c4cc" fill-opacity="0.5"/>
<ellipse cx="237.6" cy="92.5" rx="8" ry="5" fill="#a888b0" fill-opacity="0.6"/>
<ellipse cx="212.8" cy="102.1" rx="5" ry="3" fill="#dcc8d4" fill-opacity="0.5"/>
<ellipse cx="61.0" cy="110.8" rx="8" ry="5" fill="#e4c0c0" fill-opacity="0.5"/>
<ellipse cx="133.7" cy="127.6" rx="6" ry="6" fill="#9890d0" fill-opacity="0.5"/>
<ellipse cx="25.9" cy="103.9" rx="5" ry="3" fill="#c8a0b8" fill-opacity="0.5"/>
<ellipse cx="129.7" cy="136.7" rx="13" ry="11" fill="#8080d8" fill-opacity="0.75"/>
<ellipse cx="139.2" cy="109.3" rx="8" ry="5" fill="#9c90d0" fill-opacity="0.6"/>
<ellipse cx="140.8" cy="142.7" rx="5" ry="6" fill="#b07aa0" fill-opacity="0.5"/>
<ellipse cx="194.8" cy="45.7" rx="4" ry="4" fill="#c8b0d4" fill-opacity="0.5"/>
<circle cx="20.9" cy="9.2" r="2.6" fill="#9878b0" fill-opacity="0.7"/>
<circle cx="20.7" cy="11.5" r="2.6" fill="#9878b0" fill-opacity="0.7"/>
<circle cx="20.5" cy="13.8" r="2.6" fill="#9878b0" fill-opacity="0.7"/>
<circle cx="20.3" cy="16.1" r="2.6" fill="#9878b0" fill-opacity="0.7"/>
<circle cx="19.8" cy="18.3" r="2.6" fill="#9878b0" fill-opacity="0.7"/>
<circle cx="19.4" cy="20.6" r="2.6" fill="#9878b0" fill-opacity="0.7"/>
<circle cx="18.8" cy="22.7" r="2.6" fill="#9878b0" fill-opacity="0.7"/>
<circle cx="18.2" cy="24.8" r="2.6" fill="#9878b0" fill-opacity="0.7"/>
<circle cx="17.5" cy="26.9" r="2.6" fill="#9878b0" fill-opacity="0.7"/>
<circle cx="16.9" cy="29.0" r="2.6" fill="#9878b0" fill-opacity="0.7"/>
<circle cx="16.1" cy="31.1" r="2.6" fill="#9878b0" fill-opacity="0.7"/>
<circle cx="15.3" cy="33.3" r="2.6" fill="#9878b0" fill-opacity="0.7"/>
<circle cx="14.4" cy="35.4" r="2.6" fill="#9878b0" fill-opacity="0.7"/>
<circle cx="13.6" cy="37.6" r="2.6" fill="#9878b0" fill-opacity="0.7"/>
<circle cx="12.8" cy="39.7" r="2.6" fill="#9878b0" fill-opacity="0.7"/>
<circle cx="12.0" cy="41.9" r="2.6" fill="#9878b0" fill-opacity="0.7"/>
<circle cx="11.1" cy="44.0" r="2.6" fill="#9878b0" fill-opacity="0.7"/>
<circle cx="32.8" cy="7.3" r="2.6" fill="#a07cb0" fill-opacity="0.7"/>
<circle cx="32.4" cy="9.5" r="2.6" fill="#a07cb0" fill-opacity="0.7"/>
<circle cx="31.9" cy="11.7" r="2.6" fill="#a07cb0" fill-opacity="0.7"/>
<circle cx="31.4" cy="13.9" r="2.6" fill="#a07cb0" fill-opacity="0.7"/>
<circle cx="30.8" cy="16.1" r="2.6" fill="#a07cb0" fill-opacity="0.7"/>
<circle cx="30.0" cy="18.2" r="2.6" fill="#a07cb0" fill-opacity="0.7"/>
<circle cx="29.2" cy="20.3" r="2.6" fill="#a07cb0" fill-opacity="0.7"/>
<circle cx="28.3" cy="22.5" r="2.6" fill="#a07cb0" fill-opacity="0.7"/>
<circle cx="27.5" cy="24.5" r="2.6" fill="#a07cb0" fill-opacity="0.7"/>
<circle cx="26.7" cy="26.6" r="2.6" fill="#a07cb0" fill-opacity="0.7"/>
<circle cx="25.9" cy="28.6" r="2.6" fill="#a07cb0" fill-opacity="0.7"/>
<circle cx="25.0" cy="30.7" r="2.6" fill="#a07cb0" fill-opacity="0.7"/>
<circle cx="24.1" cy="32.8" r="2.6" fill="#a07cb0" fill-opacity="0.7"/>
<circle cx="23.2" cy="34.9" r="2.6" fill="#a07cb0" fill-opacity="0.7"/>
<circle cx="22.3" cy="37.0" r="2.6" fill="#a07cb0" fill-opacity="0.7"/>
<circle cx="21.4" cy="39.1" r="2.6" fill="#a07cb0" fill-opacity="0.7"/>
<circle cx="20.5" cy="41.2" r="2.6" fill="#a07cb0" fill-opacity="0.7"/>
<circle cx="19.6" cy="43.4" r="2.6" fill="#a07cb0" fill-opacity="0.7"/>
<circle cx="18.7" cy="45.5" r="2.6" fill="#a07cb0" fill-opacity="0.7"/>
<circle cx="17.9" cy="47.7" r="2.6" fill="#a07cb0" fill-opacity="0.7"/>
<circle cx="10.2" cy="48.2" r="2.3" fill="#c07898" fill-opacity="0.6"/>
<circle cx="9.8" cy="50.4" r="2.3" fill="#c07898" fill-opacity="0.6"/>
<circle cx="9.4" cy="52.7" r="2.3" fill="#c07898" fill-opacity="0.6"/>
<circle cx="9.0" cy="55.0" r="2.3" fill="#c07898" fill-opacity="0.6"/>
<circle cx="8.7" cy="57.3" r="2.3" fill="#c07898" fill-opacity="0.6"/>
<circle cx="8.7" cy="59.4" r="2.3" fill="#c07898" fill-opacity="0.6"/>
<circle cx="8.7" cy="61.4" r="2.3" fill="#c07898" fill-opacity="0.6"/>
<circle cx="8.7" cy="63.5" r="2.3" fill="#c07898" fill-opacity="0.6"/>
<circle cx="8.7" cy="65.5" r="2.3" fill="#c07898" fill-opacity="0.6"/>
<circle cx="8.9" cy="67.5" r="2.3" fill="#c07898" fill-opacity="0.6"/>
<circle cx="9.0" cy="69.6" r="2.3" fill="#c07898" fill-opacity="0.6"/>
<circle cx="9.2" cy="71.6" r="2.3" fill="#c07898" fill-opacity="0.6"/>
<circle cx="9.4" cy="73.6" r="2.3" fill="#c07898" fill-opacity="0.6"/>
<circle cx="9.8" cy="75.7" r="2.3" fill="#c07898" fill-opacity="0.6"/>
<circle cx="10.2" cy="77.8" r="2.3" fill="#c07898" fill-opacity="0.6"/>
<circle cx="10.7" cy="79.8" r="2.3" fill="#c07898" fill-opacity="0.6"/>
<circle cx="11.1" cy="81.9" r="2.3" fill="#c07898" fill-opacity="0.6"/>
<circle cx="11.6" cy="84.1" r="2.3" fill="#c07898" fill-opacity="0.6"/>
<circle cx="12.1" cy="86.3" r="2.3" fill="#c07898" fill-opacity="0.6"/>
<circle cx="12.7" cy="88.4" r="2.3" fill="#c07898" fill-opacity="0.6"/>
<circle cx="13.2" cy="90.6" r="2.3" fill="#c07898" fill-opacity="0.6"/>
<circle cx="13.9" cy="92.8" r="2.3" fill="#c07898" fill-opacity="0.6"/>
<circle cx="15.0" cy="94.9" r="2.3" fill="#c07898" fill-opacity="0.6"/>
<circle cx="16.1" cy="97.0" r="2.3" fill="#c07898" fill-opacity="0.6"/>
<circle cx="17.2" cy="99.1" r="2.3" fill="#c07898" fill-opacity="0.6"/>
<circle cx="19.1" cy="100.3" r="2.3" fill="#c07898" fill-opacity="0.6"/>
<circle cx="21.0" cy="101.5" r="2.3" fill="#c07898" fill-opacity="0.6"/>
<circle cx="22.9" cy="102.7" r="2.3" fill="#c07898" fill-opacity="0.6"/>
<circle cx="19.2" cy="61.0" r="2.3" fill="#c07898" fill-opacity="0.6"/>
<circle cx="19.6" cy="63.1" r="2.3" fill="#c07898" fill-opacity="0.6"/>
<circle cx="20.0" cy="65.2" r="2.3" fill="#c07898" fill-opacity="0.6"/>
<circle cx="20.4" cy="67.4" r="2.3" fill="#c07898" fill-opacity="0.6"/>
<circle cx="20.8" cy="69.5" r="2.3" fill="#c07898" fill-opacity="0.6"/>
<circle cx="21.4" cy="71.7" r="2.3" fill="#c07898" fill-opacity="0.6"/>
<circle cx="22.1" cy="73.8" r="2.3" fill="#c07898" fill-opacity="0.6"/>
<circle cx="22.8" cy="75.9" r="2.3" fill="#c07898" fill-opacity="0.6"/>
<circle cx="23.5" cy="78.1" r="2.3" fill="#c07898" fill-opacity="0.6"/>
<circle cx="24.1" cy="80.2" r="2.3" fill="#c07898" fill-opacity="0.6"/>
<circle cx="24.7" cy="82.4" r="2.3" fill="#c07898" fill-opacity="0.6"/>
<circle cx="25.2" cy="84.5" r="2.3" fill="#c07898" fill-opacity="0.6"/>
<circle cx="25.8" cy="86.7" r="2.3" fill="#c07898" fill-opacity="0.6"/>
<circle cx="26.3" cy="88.9" r="2.3" fill="#c07898" fill-opacity="0.6"/>
<circle cx="26.3" cy="90.9" r="2.3" fill="#c07898" fill-opacity="0.6"/>
<circle cx="26.3" cy="92.9" r="2.3" fill="#c07898" fill-opacity="0.6"/>
<circle cx="26.3" cy="94.9" r="2.3" fill="#c07898" fill-opacity="0.6"/>
</g>
</g>
<use href="#bd" fill="none" stroke="#222" stroke-width="1.25"/>
<use href="#us" fill="none" stroke="#111" stroke-width="1.15"/>
<use href="#li" fill="none" stroke="#111" stroke-width="0.9"/>
<use href="#ex"/>
</g>
<g transform="translate(0 174.6)">
<g clip-path="url(#clipus)"><g filter="url(#bl)">
<use href="#us" fill="#e8e2ea"/>
<use href="#s_WA" fill="#ece0e6"/>
<use href="#s_OR" fill="#f2eef2"/>
<use href="#s_CA" fill="#e8dce6"/>
<use href="#s_NV" fill="#f6f4f6"/>
<use href="#s_ID" fill="#eee6ec"/>
<use href="#s_MT" fill="#e8d4dc"/>
<use href="#s_WY" fill="#f4f2f4"/>
<use href="#s_UT" fill="#f4f2f4"/>
<use href="#s_AZ" fill="#f2eef2"/>
<use href="#s_CO" fill="#e4d4e0"/>
<use href="#s_NM" fill="#f2eef2"/>
<use href="#s_ND" fill="#d8c0d0"/>
<use href="#s_SD" fill="#d4c8dc"/>
<use href="#s_NE" fill="#dcd8e8"/>
<use href="#s_KS" fill="#dcb4c0"/>
<use href="#s_OK" fill="#d4a8b8"/>
<use href="#s_TX" fill="#e0c8d4"/>
<use href="#s_MN" fill="#e0dce2"/>
<use href="#s_IA" fill="#d2cfd6"/>
<use href="#s_MO" fill="#e4dce2"/>
<use href="#s_AR" fill="#e0d0dc"/>
<use href="#s_LA" fill="#e6dae4"/>
<use href="#s_WI" fill="#e6e0e8"/>
<use href="#s_IL" fill="#d6d2da"/>
<use href="#s_MI" fill="#e8e4ea"/>
<use href="#s_MIU" fill="#f6f4f6"/>
<use href="#s_IN" fill="#dcd8e0"/>
<use href="#s_OH" fill="#e0dce4"/>
<use href="#s_KY" fill="#e8e2e8"/>
<use href="#s_TN" fill="#e4dce4"/>
<use href="#s_MS" fill="#e0ccd8"/>
<use href="#s_AL" fill="#e2ccd6"/>
<use href="#s_GA" fill="#dcc2ce"/>
<use href="#s_FL" fill="#dccce0"/>
<use href="#s_SC" fill="#dcc2ce"/>
<use href="#s_NC" fill="#e2d4de"/>
<use href="#s_VA" fill="#ece6ec"/>
<use href="#s_WV" fill="#f4f2f4"/>
<use href="#s_MD" fill="#e8e2e8"/>
<use href="#s_DE" fill="#e4dee6"/>
<use href="#s_PA" fill="#ece8ee"/>
<use href="#s_NJ" fill="#ece8ee"/>
<use href="#s_NY" fill="#eeeaf0"/>
<use href="#s_CT" fill="#f4f2f4"/>
<use href="#s_RI" fill="#f4f2f4"/>
<use href="#s_MA" fill="#f4f2f4"/>
<use href="#s_VT" fill="#f4f2f4"/>
<use href="#s_NH" fill="#f6f4f6"/>
<use href="#s_ME" fill="#f6f4f6"/>
</g>
<g filter="url(#bl2)">
<ellipse cx="133.8" cy="50.9" rx="7" ry="6" fill="#a89cd8" fill-opacity="0.6"/>
<ellipse cx="119.6" cy="88.5" rx="7" ry="5" fill="#d49aa8" fill-opacity="0.5"/>
<ellipse cx="118.2" cy="119.9" rx="12" ry="6" fill="#cc8294" fill-opacity="0.7"/>
<ellipse cx="109.5" cy="130.6" rx="6" ry="5" fill="#d08898" fill-opacity="0.6"/>
<ellipse cx="131.0" cy="155.6" rx="9" ry="9" fill="#9890d8" fill-opacity="0.7"/>
<ellipse cx="146.3" cy="134.8" rx="6" ry="8" fill="#c898b8" fill-opacity="0.5"/>
<ellipse cx="157.6" cy="29.8" rx="6" ry="5" fill="#f6f4f6" fill-opacity="0.7"/>
<ellipse cx="36.5" cy="28.3" rx="5" ry="3" fill="#d89aa8" fill-opacity="0.5"/>
<ellipse cx="120.5" cy="68.8" rx="6" ry="4" fill="#c4bce0" fill-opacity="0.5"/>
<ellipse cx="43.6" cy="22.0" rx="9" ry="5" fill="#d08090" fill-opacity="0.75"/>
<ellipse cx="36.4" cy="28.9" rx="7" ry="2.5" fill="#d08898" fill-opacity="0.6"/>
<ellipse cx="83.3" cy="20.9" rx="14" ry="4" fill="#d494a4" fill-opacity="0.65"/>
<ellipse cx="104.3" cy="84.2" rx="7" ry="11" fill="#b088c0" fill-opacity="0.8"/>
<circle cx="45.3" cy="43.1" r="2.2" fill="#c890b0" fill-opacity="0.55"/>
<circle cx="46.6" cy="44.8" r="2.2" fill="#c890b0" fill-opacity="0.55"/>
<circle cx="47.8" cy="46.5" r="2.2" fill="#c890b0" fill-opacity="0.55"/>
<circle cx="49.1" cy="48.2" r="2.2" fill="#c890b0" fill-opacity="0.55"/>
<circle cx="50.7" cy="49.7" r="2.2" fill="#c890b0" fill-opacity="0.55"/>
<circle cx="52.3" cy="51.0" r="2.2" fill="#c890b0" fill-opacity="0.55"/>
<circle cx="54.0" cy="52.4" r="2.2" fill="#c890b0" fill-opacity="0.55"/>
<circle cx="55.8" cy="53.0" r="2.2" fill="#c890b0" fill-opacity="0.55"/>
<circle cx="57.9" cy="53.0" r="2.2" fill="#c890b0" fill-opacity="0.55"/>
<circle cx="60.0" cy="52.9" r="2.2" fill="#c890b0" fill-opacity="0.55"/>
<circle cx="62.0" cy="52.2" r="2.2" fill="#c890b0" fill-opacity="0.55"/>
<circle cx="63.8" cy="51.2" r="2.2" fill="#c890b0" fill-opacity="0.55"/>
<circle cx="65.7" cy="50.3" r="2.2" fill="#c890b0" fill-opacity="0.55"/>
<circle cx="67.4" cy="49.2" r="2.2" fill="#c890b0" fill-opacity="0.55"/>
<circle cx="69.2" cy="48.1" r="2.2" fill="#c890b0" fill-opacity="0.55"/>
<circle cx="15.3" cy="58.5" r="2.4" fill="#c890b4" fill-opacity="0.6"/>
<circle cx="15.2" cy="60.5" r="2.4" fill="#c890b4" fill-opacity="0.6"/>
<circle cx="15.1" cy="62.6" r="2.4" fill="#c890b4" fill-opacity="0.6"/>
<circle cx="15.0" cy="64.6" r="2.4" fill="#c890b4" fill-opacity="0.6"/>
<circle cx="15.0" cy="66.6" r="2.4" fill="#c890b4" fill-opacity="0.6"/>
<circle cx="15.1" cy="68.7" r="2.4" fill="#c890b4" fill-opacity="0.6"/>
<circle cx="15.1" cy="70.7" r="2.4" fill="#c890b4" fill-opacity="0.6"/>
<circle cx="15.4" cy="72.8" r="2.4" fill="#c890b4" fill-opacity="0.6"/>
<circle cx="15.9" cy="75.0" r="2.4" fill="#c890b4" fill-opacity="0.6"/>
<circle cx="16.4" cy="77.2" r="2.4" fill="#c890b4" fill-opacity="0.6"/>
<circle cx="16.9" cy="79.4" r="2.4" fill="#c890b4" fill-opacity="0.6"/>
<circle cx="17.7" cy="81.3" r="2.4" fill="#c890b4" fill-opacity="0.6"/>
<circle cx="18.6" cy="83.2" r="2.4" fill="#c890b4" fill-opacity="0.6"/>
<circle cx="19.4" cy="85.1" r="2.4" fill="#c890b4" fill-opacity="0.6"/>
<circle cx="20.3" cy="87.0" r="2.4" fill="#c890b4" fill-opacity="0.6"/>
<circle cx="20.7" cy="89.2" r="2.4" fill="#c890b4" fill-opacity="0.6"/>
<circle cx="21.1" cy="91.3" r="2.4" fill="#c890b4" fill-opacity="0.6"/>
<circle cx="21.6" cy="93.4" r="2.4" fill="#c890b4" fill-opacity="0.6"/>
</g>
</g>
<use href="#bd" fill="none" stroke="#222" stroke-width="1.25"/>
<use href="#us" fill="none" stroke="#111" stroke-width="1.15"/>
<use href="#li" fill="none" stroke="#111" stroke-width="0.9"/>
<use href="#ex"/>
</g>
<g transform="translate(271 174.6)">
<g clip-path="url(#clipus)"><g filter="url(#bl)">
<use href="#us" fill="#c8c0d0"/>
<use href="#s_WA" fill="#bcb2d0"/>
<use href="#s_OR" fill="#c0b4cc"/>
<use href="#s_CA" fill="#bcacc4"/>
<use href="#s_NV" fill="#d2cad8"/>
<use href="#s_ID" fill="#b4b2dc"/>
<use href="#s_MT" fill="#c4b8d4"/>
<use href="#s_WY" fill="#ccc4d4"/>
<use href="#s_UT" fill="#cac2d2"/>
<use href="#s_AZ" fill="#cec6d4"/>
<use href="#s_CO" fill="#bca8bc"/>
<use href="#s_NM" fill="#c8bed0"/>
<use href="#s_ND" fill="#e2c4cc"/>
<use href="#s_SD" fill="#dcc0cc"/>
<use href="#s_NE" fill="#e0d4e0"/>
<use href="#s_KS" fill="#dccad4"/>
<use href="#s_OK" fill="#b09ab4"/>
<use href="#s_TX" fill="#a08cac"/>
<use href="#s_MN" fill="#eee4e8"/>
<use href="#s_IA" fill="#f0e8ec"/>
<use href="#s_MO" fill="#dcd0dc"/>
<use href="#s_AR" fill="#8e7ea2"/>
<use href="#s_LA" fill="#83708f"/>
<use href="#s_WI" fill="#f2ecf0"/>
<use href="#s_IL" fill="#f4f0f2"/>
<use href="#s_MI" fill="#ece4ec"/>
<use href="#s_MIU" fill="#e6dcea"/>
<use href="#s_IN" fill="#f4f0f2"/>
<use href="#s_OH" fill="#f2eef2"/>
<use href="#s_KY" fill="#e6e0ea"/>
<use href="#s_TN" fill="#d4cadc"/>
<use href="#s_MS" fill="#7e6c8c"/>
<use href="#s_AL" fill="#7a688a"/>
<use href="#s_GA" fill="#7c6a8b"/>
<use href="#s_FL" fill="#a493b0"/>
<use href="#s_SC" fill="#7a688a"/>
<use href="#s_NC" fill="#8676a0"/>
<use href="#s_VA" fill="#b8aac8"/>
<use href="#s_WV" fill="#e8e2ec"/>
<use href="#s_MD" fill="#d8d0e0"/>
<use href="#s_DE" fill="#e0d8e4"/>
<use href="#s_PA" fill="#f0ecf0"/>
<use href="#s_NJ" fill="#e8e2ea"/>
<use href="#s_NY" fill="#f0eaee"/>
<use href="#s_CT" fill="#e8e2ea"/>
<use href="#s_RI" fill="#e8e2ea"/>
<use href="#s_MA" fill="#eae4ec"/>
<use href="#s_VT" fill="#e8e0ea"/>
<use href="#s_NH" fill="#e0d8e6"/>
<use href="#s_ME" fill="#c4b8d8"/>
</g>
<g filter="url(#bl2)">
<ellipse cx="171.0" cy="122.2" rx="3" ry="8" fill="#e0dce8" fill-opacity="0.8"/>
<ellipse cx="169.4" cy="112.4" rx="3" ry="7" fill="#d8d0e0" fill-opacity="0.7"/>
<ellipse cx="168.7" cy="140.7" rx="3" ry="5" fill="#d8d0e0" fill-opacity="0.6"/>
<ellipse cx="52.5" cy="40.6" rx="6" ry="8" fill="#a0a0d8" fill-opacity="0.5"/>
<ellipse cx="238.0" cy="94.5" rx="9" ry="5" fill="#7c6e9c" fill-opacity="0.6"/>
<ellipse cx="149.1" cy="134.8" rx="6" ry="9" fill="#7a6e92" fill-opacity="0.7"/>
<ellipse cx="120.8" cy="62.2" rx="8" ry="4" fill="#dcaab8" fill-opacity="0.5"/>
<ellipse cx="17.6" cy="83.0" rx="3" ry="9" fill="#d0c8d4" fill-opacity="0.5"/>
<ellipse cx="228.7" cy="158.4" rx="5" ry="9" fill="#e4dce6" fill-opacity="0.8"/>
<ellipse cx="212.3" cy="137.9" rx="10" ry="3" fill="#84728f" fill-opacity="0.5"/>
<ellipse cx="159.8" cy="29.7" rx="6" ry="4" fill="#b8a8d0" fill-opacity="0.6"/>
<ellipse cx="195.3" cy="46.2" rx="4" ry="4" fill="#c4b4d8" fill-opacity="0.6"/>
</g>
</g>
<use href="#bd" fill="none" stroke="#222" stroke-width="1.25"/>
<use href="#us" fill="none" stroke="#111" stroke-width="1.15"/>
<use href="#li" fill="none" stroke="#111" stroke-width="0.9"/>
<use href="#ex"/>
</g>

<text x="157" y="16" font-size="9.9" textLength="92.4" lengthAdjust="spacingAndGlyphs" font-family="Liberation Sans, Arial, sans-serif" fill="#1c1c1c" stroke="#1c1c1c" stroke-width="0.25">(a) Land-cover change</text>
<text x="428.3" y="16.1" font-size="9.9" textLength="58.9" lengthAdjust="spacingAndGlyphs" font-family="Liberation Sans, Arial, sans-serif" fill="#1c1c1c" stroke="#1c1c1c" stroke-width="0.25">(b) Tree Cover</text>
<text x="156.8" y="189.5" font-size="9.9" textLength="50.7" lengthAdjust="spacingAndGlyphs" font-family="Liberation Sans, Arial, sans-serif" fill="#1c1c1c" stroke="#1c1c1c" stroke-width="0.25">(c) Cropland</text>
<text x="428.3" y="189.7" font-size="9.9" textLength="66.9" lengthAdjust="spacingAndGlyphs" font-family="Liberation Sans, Arial, sans-serif" fill="#1c1c1c" stroke="#1c1c1c" stroke-width="0.25">(d) Grass/Shrub</text>
<rect x="15.2" y="137.2" width="70.8" height="12.3" fill="url(#gor)" stroke="#4a3a30" stroke-width="0.9"/>
<text x="14.4" y="156.6" font-size="6.6" font-family="Liberation Sans, Arial, sans-serif" fill="#1c1c1c" stroke="#1c1c1c" stroke-width="0.25">0</text>
<text x="84.2" y="156.6" font-size="6.6" font-family="Liberation Sans, Arial, sans-serif" fill="#1c1c1c" stroke="#1c1c1c" stroke-width="0.25">1</text>
<text x="14.4" y="164.2" font-size="6.8" textLength="72.3" lengthAdjust="spacingAndGlyphs" font-family="Liberation Sans, Arial, sans-serif" fill="#1c1c1c" stroke="#1c1c1c" stroke-width="0.25">Cover changes per pixel</text>
<rect x="15" y="311" width="71.2" height="15.5" fill="url(#ggr)" stroke="#505050" stroke-width="0.9"/>
<text x="12.4" y="332.9" font-size="6.8" textLength="9.2" lengthAdjust="spacingAndGlyphs" font-family="Liberation Sans, Arial, sans-serif" fill="#1c1c1c" stroke="#1c1c1c" stroke-width="0.25">0%</text>
<text x="79.6" y="332.9" font-size="6.8" textLength="24" lengthAdjust="spacingAndGlyphs" font-family="Liberation Sans, Arial, sans-serif" fill="#1c1c1c" stroke="#1c1c1c" stroke-width="0.25">&gt;27.5%</text>
<text x="17.6" y="341.5" font-size="6.8" textLength="67.2" lengthAdjust="spacingAndGlyphs" font-family="Liberation Sans, Arial, sans-serif" fill="#1c1c1c" stroke="#1c1c1c" stroke-width="0.25">Stable cover this class</text>
<text x="231.8" y="304.1" font-size="6.8" textLength="75.9" lengthAdjust="spacingAndGlyphs" font-family="Liberation Sans, Arial, sans-serif" fill="#1c1c1c" stroke="#1c1c1c" stroke-width="0.25">Percent of change is loss</text>
<text x="235.3" y="312.3" font-size="6.8" textLength="17.1" lengthAdjust="spacingAndGlyphs" font-family="Liberation Sans, Arial, sans-serif" fill="#1c1c1c" stroke="#1c1c1c" stroke-width="0.25">&lt;33%</text>
<text x="259.3" y="312.3" font-size="6.8" textLength="13" lengthAdjust="spacingAndGlyphs" font-family="Liberation Sans, Arial, sans-serif" fill="#1c1c1c" stroke="#1c1c1c" stroke-width="0.25">50%</text>
<text x="279.9" y="312.3" font-size="6.8" textLength="16.8" lengthAdjust="spacingAndGlyphs" font-family="Liberation Sans, Arial, sans-serif" fill="#1c1c1c" stroke="#1c1c1c" stroke-width="0.25">&gt;66%</text>
<rect x="250.5" y="316.5" width="27.2" height="26.6" fill="url(#gbr)"/>
<rect x="250.5" y="316.5" width="27.2" height="26.6" fill="url(#gwh)" stroke="#333" stroke-width="0.9"/>
<text x="278.4" y="320.2" font-size="6.6" textLength="10.5" lengthAdjust="spacingAndGlyphs" font-family="Liberation Sans, Arial, sans-serif" fill="#1c1c1c" stroke="#1c1c1c" stroke-width="0.25">0.3</text>
<text x="278.7" y="343.6" font-size="6.6" font-family="Liberation Sans, Arial, sans-serif" fill="#1c1c1c" stroke="#1c1c1c" stroke-width="0.25">0</text>
<text x="286.6" y="328" font-size="6.8" textLength="45.3" lengthAdjust="spacingAndGlyphs" font-family="Liberation Sans, Arial, sans-serif" fill="#1c1c1c" stroke="#1c1c1c" stroke-width="0.25">Cover changes</text>
<text x="286.6" y="335.2" font-size="6.8" textLength="27.8" lengthAdjust="spacingAndGlyphs" font-family="Liberation Sans, Arial, sans-serif" fill="#1c1c1c" stroke="#1c1c1c" stroke-width="0.25">this class</text>

</svg></body></html>
